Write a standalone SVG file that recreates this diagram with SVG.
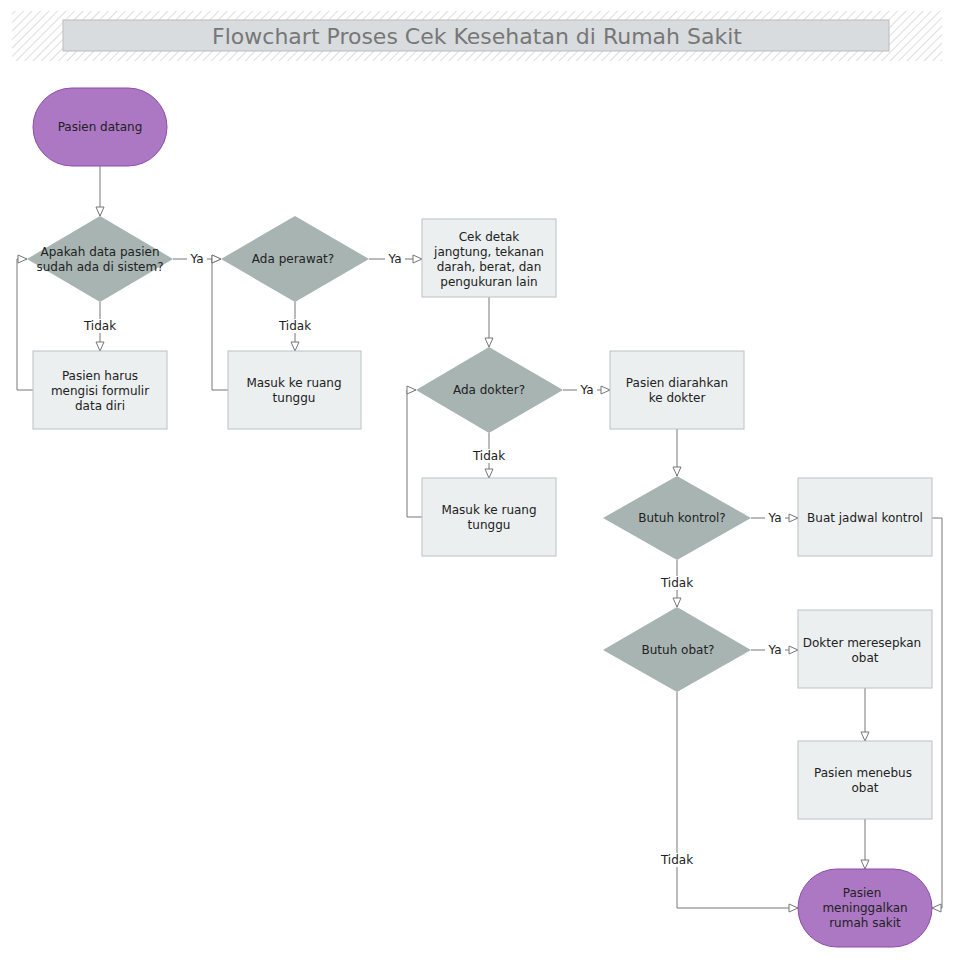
<svg xmlns="http://www.w3.org/2000/svg" width="955" height="960" viewBox="0 0 955 960">
<defs>
<pattern id="hatch" width="6" height="6" patternUnits="userSpaceOnUse" patternTransform="rotate(45)">
<rect width="6" height="6" fill="#fff"/><line x1="0" y1="0" x2="0" y2="6" stroke="#c8c8c8" stroke-width="1.2"/>
</pattern>
<marker id="arr" markerWidth="12" markerHeight="10" refX="10" refY="5" orient="auto" markerUnits="userSpaceOnUse">
<path d="M1,1 L10,5 L1,9 Z" fill="#fff" stroke="#777" stroke-width="1"/>
</marker>
</defs>
<style>
text{font-family:"DejaVu Sans",Verdana,sans-serif;font-size:12px;fill:#222;text-anchor:middle}
.term{fill:#ac78c3;stroke:#8e4aa8;stroke-width:1}
.dec{fill:#a7b4b2;stroke:none}
.proc{fill:#ebeff0;stroke:#bcc2c4;stroke-width:1}
.c path{fill:none;stroke:#777;stroke-width:1;marker-end:url(#arr)}
.lbl{fill:#fff}
</style>
<rect width="955" height="960" fill="#fff"/>
<g id="title">
<rect x="12" y="11" width="930" height="50" fill="url(#hatch)"/>
<rect x="63" y="20" width="826" height="31" fill="#d9dcde" stroke="#bbb"/>
<text x="477" y="44" style="font-size:22px;fill:#777">Flowchart Proses Cek Kesehatan di Rumah Sakit</text>
</g>
<g class="c" id="connectors">
<path d="M100,166 V216"/>
<path d="M100,302 V351"/>
<path d="M33,390 H17 V259 H27"/>
<path d="M173,259 H221"/>
<path d="M295,302 V351"/>
<path d="M228,390 H212 V259 H221"/>
<path d="M369,259 H422"/>
<path d="M489,297 V347"/>
<path d="M563,390 H610"/>
<path d="M489,433 V478"/>
<path d="M422,517 H407 V390 H416"/>
<path d="M677,429 V476"/>
<path d="M751,518 H798"/>
<path d="M677,560 V607"/>
<path d="M751,650 H798"/>
<path d="M865,688 V741"/>
<path d="M865,819 V869"/>
<path d="M677,692 V908 H798"/>
<path d="M932,518 H942 V908 H932"/>
<g id="labels">
<rect class="lbl" x="82" y="319" width="36" height="14"/><text x="100" y="330">Tidak</text>
<rect class="lbl" x="187" y="252" width="20" height="14"/><text x="197" y="263">Ya</text>
<rect class="lbl" x="277" y="319" width="36" height="14"/><text x="295" y="330">Tidak</text>
<rect class="lbl" x="385" y="252" width="20" height="14"/><text x="395" y="263">Ya</text>
<rect class="lbl" x="471" y="449" width="36" height="14"/><text x="489" y="460">Tidak</text>
<rect class="lbl" x="577" y="383" width="20" height="14"/><text x="587" y="394">Ya</text>
<rect class="lbl" x="765" y="511" width="20" height="14"/><text x="775" y="522">Ya</text>
<rect class="lbl" x="659" y="576" width="36" height="14"/><text x="677" y="587">Tidak</text>
<rect class="lbl" x="765" y="643" width="20" height="14"/><text x="775" y="654">Ya</text>
<rect class="lbl" x="659" y="853" width="36" height="14"/><text x="677" y="864">Tidak</text>
</g>
</g>
<g id="start"><rect class="term" x="33" y="88" width="134" height="78" rx="39"/><text x="100" y="131">Pasien datang</text></g>
<g id="d1"><polygon class="dec" points="100,216 173,259 100,302 27,259"/><text x="100" y="256">Apakah data pasien</text><text x="100" y="271">sudah ada di sistem?</text></g>
<g id="b1"><rect class="proc" x="33" y="351" width="134" height="78"/><text x="100" y="380">Pasien harus</text><text x="100" y="395">mengisi formulir</text><text x="100" y="410">data diri</text></g>
<g id="d2"><polygon class="dec" points="295,216 369,259 295,302 221,259"/><text x="293" y="263">Ada perawat?</text></g>
<g id="b2"><rect class="proc" x="228" y="351" width="133" height="78"/><text x="294" y="387">Masuk ke ruang</text><text x="294" y="402">tunggu</text></g>
<g id="b3"><rect class="proc" x="422" y="219" width="134" height="78"/><text x="489" y="241">Cek detak</text><text x="489" y="256">jangtung, tekanan</text><text x="489" y="271">darah, berat, dan</text><text x="489" y="286">pengukuran lain</text></g>
<g id="d3"><polygon class="dec" points="489,347 563,390 489,433 416,390"/><text x="489" y="394">Ada dokter?</text></g>
<g id="b4"><rect class="proc" x="610" y="351" width="134" height="78"/><text x="677" y="387">Pasien diarahkan</text><text x="677" y="402">ke dokter</text></g>
<g id="b5"><rect class="proc" x="422" y="478" width="134" height="78"/><text x="489" y="514">Masuk ke ruang</text><text x="489" y="529">tunggu</text></g>
<g id="d4"><polygon class="dec" points="677,476 751,518 677,560 603,518"/><text x="682" y="522">Butuh kontrol?</text></g>
<g id="b6"><rect class="proc" x="798" y="478" width="134" height="78"/><text x="865" y="522">Buat jadwal kontrol</text></g>
<g id="d5"><polygon class="dec" points="677,607 751,650 677,692 603,650"/><text x="678" y="654">Butuh obat?</text></g>
<g id="b7"><rect class="proc" x="798" y="610" width="134" height="78"/><text x="862" y="647">Dokter meresepkan</text><text x="865" y="662">obat</text></g>
<g id="b8"><rect class="proc" x="798" y="741" width="134" height="78"/><text x="863" y="777">Pasien menebus</text><text x="865" y="792">obat</text></g>
<g id="end"><rect class="term" x="798" y="869" width="134" height="78" rx="39"/><text x="862" y="897">Pasien</text><text x="865" y="912">meninggalkan</text><text x="865" y="927">rumah sakit</text></g>
</svg>
